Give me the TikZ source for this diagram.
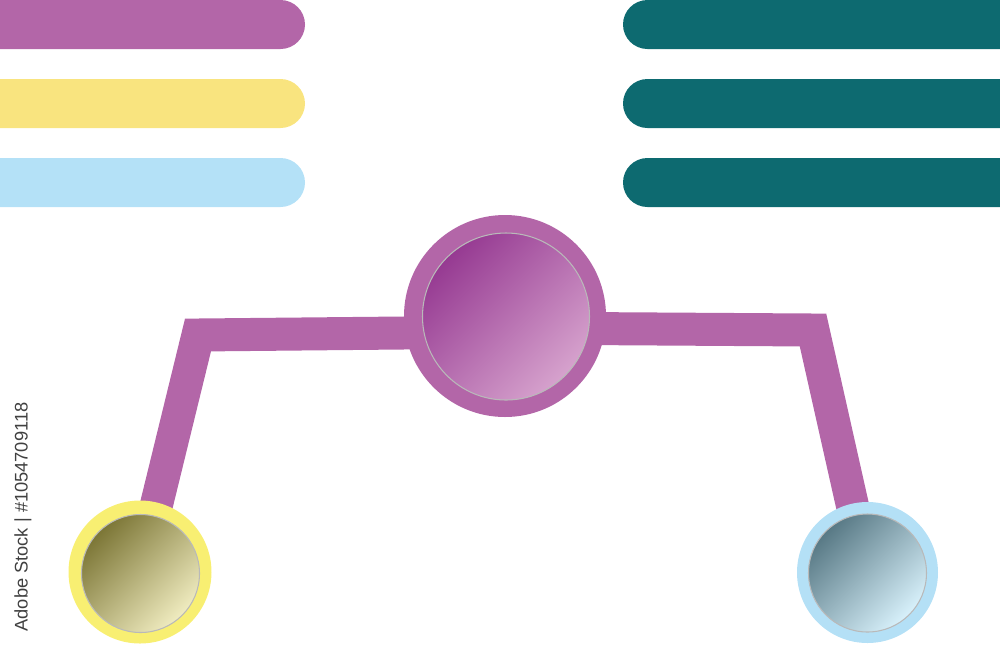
\documentclass[tikz,border=0pt]{standalone}
\usepackage{fontspec}
\setsansfont{Liberation Sans}
\usetikzlibrary{backgrounds}
\definecolor{mpurple}{HTML}{B366A8}
\definecolor{myellow}{HTML}{F9E47F}
\definecolor{mblue}{HTML}{B4E1F7}
\definecolor{mteal}{HTML}{0D6A70}
\definecolor{ringyellow}{HTML}{F8EF72}
\definecolor{ringblue}{HTML}{B4E0F6}
\definecolor{pdark}{HTML}{963A92}
\definecolor{plight}{HTML}{D6A2CD}
\definecolor{ydark}{HTML}{7C7636}
\definecolor{ylight}{HTML}{F0ECC0}
\definecolor{bdark}{HTML}{587985}
\definecolor{blight}{HTML}{D8F1FB}
\tikzset{
  bar/.style={rounded corners=2.45mm},
  ring/.style={circle, inner sep=0pt},
  core/.style={circle, inner sep=0pt, draw=gray!55, line width=0.3pt},
  link/.style={draw=mpurple, line width=3.3mm, line join=miter}
}
\begin{document}
\begin{tikzpicture}[x=0.1mm, y=-0.1mm]
\useasboundingbox (0,0) rectangle (1000,645);
\begin{scope}
\clip (0,0) rectangle (1000,645);
% left bars
\fill[mpurple, bar] (-60,0) rectangle (305,49);
\fill[myellow, bar] (-60,79) rectangle (305,128);
\fill[mblue, bar] (-60,158) rectangle (305,207);
% right bars
\fill[mteal, bar] (623,0) rectangle (1060,49);
\fill[mteal, bar] (623,79) rectangle (1060,128);
\fill[mteal, bar] (623,158) rectangle (1060,207);
\end{scope}
% circles
\node[ring, fill=mpurple, minimum size=20.2mm] (hub) at (505,316) {};
\node[core, top color=pdark, bottom color=plight, shading angle=45, minimum size=16.7mm] (hubcore) at (506,316.5) {};
\node[ring, fill=ringyellow, minimum size=14.3mm] (lft) at (140,572) {};
\node[core, top color=ydark, bottom color=ylight, shading angle=45, minimum size=11.8mm] (lftcore) at (140.5,573.5) {};
\node[ring, fill=ringblue, minimum size=14.1mm] (rgt) at (867.5,572.5) {};
\node[core, top color=bdark, bottom color=blight, shading angle=45, minimum size=11.8mm] (rgtcore) at (867.5,573) {};
% connectors
\coordinate (lhub) at (505,332);
\coordinate (rhub) at (505,328);
\coordinate (lbend) at (198,335);
\coordinate (rbend) at (813,330);
\begin{scope}[on background layer]
\draw[link] (lhub) -- (lbend) -- (lft.center);
\draw[link] (rhub) -- (rbend) -- (rgt.center);
\end{scope}
% vertical label
\node[rotate=90, text=black!75, font=\sffamily\fontsize{5.2}{6}\selectfont, inner sep=0pt] (credit) at (23,517) {Adobe Stock | \#1054709118};
\end{tikzpicture}
\end{document}
